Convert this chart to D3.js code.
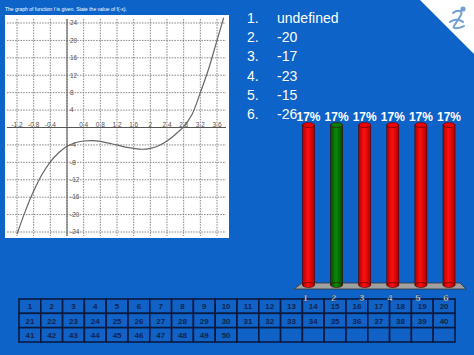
<!DOCTYPE html>
<html>
<head>
<meta charset="utf-8">
<script src="https://cdn.jsdelivr.net/npm/d3@7"></script>
<style>
  body { margin: 0; background: #0d63c8; }
  svg { display: block; font-family: "Liberation Sans", Arial, sans-serif; }
</style>
</head>
<body>
<svg width="474" height="355"></svg>
<script>
const titleText = 'The graph of function f is given. State the value of f(-x).';
const answers = ['undefined', '-20', '-17', '-23', '-15', '-26'];
const choices = ['1', '2', '3', '4', '5', '6'];
const percents = [17, 17, 17, 17, 17, 17];
const correctChoice = '2';
const xTicks = [-1.2, -0.8, -0.4, 0.4, 0.8, 1.2, 1.6, 2, 2.4, 2.8, 3.2, 3.6];
const yTicks = [24, 20, 16, 12, 8, 4, -4, -8, -12, -16, -20, -24];
const curveX = [-1.2, -1.0, -0.8, -0.6, -0.4, -0.2, 0, 0.2, 0.4, 0.6, 0.8, 1.0, 1.2, 1.4, 1.6, 1.8, 2.0, 2.2, 2.4, 2.6, 2.8, 3.0, 3.2, 3.4, 3.6, 3.76];
const curveY = [-24.5, -19.2, -14.6, -10.8, -7.9, -5.8, -4.3, -3.5, -3.1, -3.0, -3.2, -3.6, -4.0, -4.5, -4.8, -5.0, -4.8, -4.2, -3.1, -1.6, 0.2, 3.0, 8.0, 13.5, 20.0, 25.2];
const tableNumbers = d3.range(1, 51);

const svg = d3.select('svg');
const width = +svg.attr('width');
const height = +svg.attr('height');

svg.append('rect').attr('width', width).attr('height', height).attr('fill', '#0d63c8');

// corner triangle + logo
svg.append('path').attr('d', 'M420,0L474,0L474,54Z').attr('fill', '#fff');
const logo = svg.append('g').attr('transform', 'translate(457,18)')
  .attr('fill', 'none').attr('stroke', '#6f9fd2').attr('stroke-width', 2).attr('stroke-linecap', 'round');
logo.append('path').attr('d', 'M-4,-5 C1,-9 6,-7 4,-3 L-3,8 C-5,11 2,11 7,8');
logo.append('path').attr('d', 'M-7,4 C-3,0 4,2 6,4');
logo.append('circle').attr('cx', 6).attr('cy', -9).attr('r', 1.6).attr('fill', '#6f9fd2');

// ---------- function graph ----------
svg.append('text')
  .attr('x', 5).attr('y', 11)
  .attr('fill', '#fff').attr('font-size', 5)
  .text(titleText);

svg.append('rect')
  .attr('x', 5).attr('y', 15).attr('width', 224).attr('height', 223)
  .attr('fill', '#fff');

const xScale = d3.scaleLinear().domain([-1.2, 3.6]).range([17, 217]);
const yScale = d3.scaleLinear().domain([-24, 24]).range([232, 23]);

const gr = svg.append('g');
const gridX = [-1.2, -0.8, -0.4, 0, 0.4, 0.8, 1.2, 1.6, 2, 2.4, 2.8, 3.2, 3.6];

gr.selectAll('.vgrid').data(gridX).enter().append('line')
  .attr('x1', d => xScale(d)).attr('x2', d => xScale(d))
  .attr('y1', 19).attr('y2', 236)
  .attr('stroke', '#777').attr('stroke-width', 0.9).attr('stroke-dasharray', '1.5,1.2');

gr.selectAll('.hgrid').data(yTicks).enter().append('line')
  .attr('x1', 7).attr('x2', 226)
  .attr('y1', d => yScale(d)).attr('y2', d => yScale(d))
  .attr('stroke', '#777').attr('stroke-width', 0.9).attr('stroke-dasharray', '1.5,1.2');

// axes
gr.append('line').attr('x1', 7).attr('x2', 226)
  .attr('y1', yScale(0)).attr('y2', yScale(0))
  .attr('stroke', '#555').attr('stroke-width', 1);
gr.append('line').attr('x1', xScale(0)).attr('x2', xScale(0))
  .attr('y1', 19).attr('y2', 236)
  .attr('stroke', '#555').attr('stroke-width', 1);

gr.selectAll('.xlab').data(xTicks).enter().append('text')
  .attr('x', d => xScale(d)).attr('y', yScale(0) - 1)
  .attr('text-anchor', 'middle').attr('font-size', 6.5).attr('fill', '#555')
  .text(d => String(d));

gr.selectAll('.ylab').data(yTicks).enter().append('text')
  .attr('x', xScale(0) + 3).attr('y', d => yScale(d) + 2.3)
  .attr('font-size', 6.5).attr('fill', '#555')
  .text(d => String(d));

const curve = d3.line()
  .x((d, i) => xScale(curveX[i]))
  .y(d => yScale(d))
  .curve(d3.curveCatmullRom);

gr.append('path').datum(curveY)
  .attr('d', curve)
  .attr('fill', 'none').attr('stroke', '#666').attr('stroke-width', 1.2);

// ---------- answer list ----------
const list = svg.append('g').attr('font-size', 14).attr('fill', '#fff');
answers.forEach((a, i) => {
  list.append('text').attr('x', 247).attr('y', 23 + i * 19.2).text((i + 1) + '.');
  list.append('text').attr('x', 277).attr('y', 23 + i * 19.2).text(a);
});

// ---------- 3D bar chart ----------
const defs = svg.append('defs');
const mkGrad = (id, dark, mid) => {
  const g = defs.append('linearGradient').attr('id', id).attr('x1', 0).attr('x2', 1);
  g.append('stop').attr('offset', 0).attr('stop-color', dark);
  g.append('stop').attr('offset', 0.45).attr('stop-color', mid);
  g.append('stop').attr('offset', 1).attr('stop-color', dark);
};
mkGrad('redG', '#b00000', '#ff1010');
mkGrad('greenG', '#004d00', '#0a8a0a');

const bx = d3.scalePoint().domain(choices).range([308.5, 449]);
const by = d3.scaleLinear().domain([0, 17]).range([285, 125]);
const bw = 12;

// floor
svg.append('path')
  .attr('d', 'M302,283L460,283L466,289L294,289Z')
  .attr('fill', '#a0a0a0').attr('stroke', '#333').attr('stroke-width', 0.8);

const bars = svg.selectAll('.bar').data(percents).enter().append('g');
bars.append('rect')
  .attr('x', (d, i) => bx(choices[i]) - bw / 2)
  .attr('y', d => by(d))
  .attr('width', bw)
  .attr('height', d => by(0) - by(d))
  .attr('fill', (d, i) => choices[i] === correctChoice ? 'url(#greenG)' : 'url(#redG)')
  .attr('stroke', '#400').attr('stroke-width', 0.6);
bars.append('ellipse')
  .attr('cx', (d, i) => bx(choices[i])).attr('cy', by(0))
  .attr('rx', bw / 2).attr('ry', 2.5)
  .attr('fill', (d, i) => choices[i] === correctChoice ? 'url(#greenG)' : 'url(#redG)')
  .attr('stroke', '#400').attr('stroke-width', 0.6);
bars.append('ellipse')
  .attr('cx', (d, i) => bx(choices[i])).attr('cy', d => by(d))
  .attr('rx', bw / 2).attr('ry', 2.5)
  .attr('fill', (d, i) => choices[i] === correctChoice ? '#0a7a0a' : '#ee0000')
  .attr('stroke', '#400').attr('stroke-width', 0.6);

svg.selectAll('.pct').data(percents).enter().append('text')
  .attr('x', (d, i) => bx(choices[i])).attr('y', 121)
  .attr('text-anchor', 'middle').attr('font-size', 12).attr('font-weight', 'bold')
  .attr('fill', '#fff')
  .text(d => d + '%');

// ---------- number table ----------
const cols = 20, rows = 3;
const tx = d3.scaleBand().domain(d3.range(cols)).range([19, 455]);
const ty = d3.scaleBand().domain(d3.range(rows)).range([299, 342]);
const cells = d3.range(cols * rows);
const tg = svg.append('g');
tg.selectAll('rect').data(cells).enter().append('rect')
  .attr('x', d => tx(d % cols)).attr('y', d => ty(Math.floor(d / cols)))
  .attr('width', tx.bandwidth()).attr('height', ty.bandwidth())
  .attr('fill', '#1062c6').attr('stroke', '#0a1a40').attr('stroke-width', 1.6);
tg.selectAll('text').data(tableNumbers).enter().append('text')
  .attr('x', (d, i) => tx(i % cols) + tx.bandwidth() / 2)
  .attr('y', (d, i) => ty(Math.floor(i / cols)) + ty.bandwidth() / 2 + 3)
  .attr('text-anchor', 'middle').attr('font-size', 8).attr('font-weight', 'bold')
  .attr('fill', '#13244c')
  .text(d => d);

// choice labels under the floor
svg.selectAll('.clab').data(choices).enter().append('text')
  .attr('x', d => bx(d) - 3).attr('y', 301)
  .attr('text-anchor', 'middle').attr('font-size', 9.5).attr('font-weight', 'bold')
  .attr('fill', '#fff').attr('stroke', '#0b1c45').attr('stroke-width', 0.4)
  .text(d => d);
</script>
</body>
</html>
